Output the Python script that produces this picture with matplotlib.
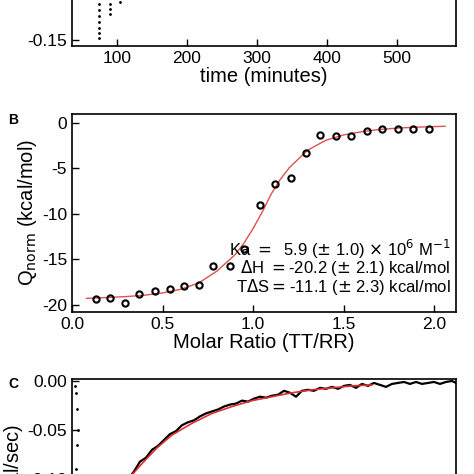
import matplotlib
matplotlib.use("Agg")
import matplotlib.pyplot as plt

plt.rcParams['font.family'] = ['Liberation Sans', 'DejaVu Sans']
plt.rcParams['axes.unicode_minus'] = False

# Panel A: injection spikes (visible lower ends)
a_x = [75]*14 + [90]*11 + [105]*9
a_y = [-0.148,-0.144,-0.14,-0.135,-0.13,-0.125,-0.12,-0.115,-0.11,-0.105,-0.10,-0.095,-0.09,-0.085,
       -0.128,-0.124,-0.12,-0.115,-0.11,-0.105,-0.10,-0.095,-0.09,-0.085,-0.08,
       -0.118,-0.114,-0.11,-0.105,-0.10,-0.095,-0.09,-0.085,-0.08]

# Panel B: integrated heats
b_x = [0.13,0.21,0.29,0.37,0.46,0.54,0.62,0.70,0.78,0.87,0.95,1.04,1.12,1.21,1.29,1.37,1.46,1.54,1.63,1.71,1.80,1.88,1.97]
b_y = [-19.4,-19.3,-19.8,-18.8,-18.5,-18.3,-17.9,-17.8,-15.7,-15.7,-13.9,-9.0,-6.7,-6.0,-3.3,-1.3,-1.4,-1.4,-0.9,-0.6,-0.6,-0.6,-0.6]
fit_x = [0.08,0.2,0.3,0.4,0.5,0.6,0.7,0.8,0.9,0.95,1.0,1.05,1.1,1.15,1.2,1.3,1.4,1.5,1.6,1.7,1.8,1.9,2.06]
fit_y = [-19.3,-19.2,-19.1,-18.95,-18.7,-18.3,-17.6,-16.3,-14.5,-13.2,-11.6,-9.8,-7.8,-6.2,-4.9,-3.0,-1.9,-1.3,-0.95,-0.7,-0.55,-0.45,-0.35]

# Panel C: single-injection trace
c_dot_x = [3,4,5,6,5,4]
c_dot_y = [-0.005,-0.012,-0.028,-0.05,-0.065,-0.09]
c_x = [56,62,68,74,80,86,92,98,104,110,116,122,128,134,140,146,152,158,164,170,176,182,188,194,200,206,212,218,224,230,236,242,248,254,260,266,272,278,284,290,296,302,308,314,320,326,332,338,344,350,356,362,368,374,380,384]
c_y = [-0.100,-0.092,-0.082,-0.078,-0.070,-0.066,-0.060,-0.054,-0.051,-0.045,-0.042,-0.040,-0.036,-0.033,-0.031,-0.029,-0.026,-0.024,-0.023,-0.020,-0.021,-0.018,-0.016,-0.017,-0.015,-0.014,-0.010,-0.012,-0.016,-0.010,-0.009,-0.010,-0.007,-0.008,-0.006,-0.008,-0.005,-0.004,-0.007,-0.003,-0.005,-0.002,-0.004,-0.006,-0.003,-0.002,-0.001,-0.003,-0.001,-0.003,-0.002,-0.001,-0.003,-0.001,-0.000,-0.002]
cfit_x = [56,70,85,100,120,140,160,180,200,220,240,260,280,300]
cfit_y = [-0.100,-0.084,-0.068,-0.055,-0.043,-0.033,-0.026,-0.020,-0.016,-0.012,-0.009,-0.007,-0.005,-0.004]

W = H = 474.0
fig = plt.figure(figsize=(4.74, 4.74), dpi=100)

def ax_px(l, t, r, b):
    return fig.add_axes([l/W, 1-b/H, (r-l)/W, (b-t)/H])

tick_fs = 12.5
lab_fs = 14.5

# A
axA = ax_px(72, -150, 456, 46)
axA.plot(a_x, a_y, 'k.', ms=2)
axA.set_xlim(36, 584)
axA.set_ylim(-0.155, 0.01)
axA.set_yticks([-0.15])
axA.set_yticklabels(['-0.15'])
axA.set_xticks([100, 200, 300, 400, 500])
axA.set_xlabel('time (minutes)', fontsize=lab_fs, labelpad=1)

# B
axB = ax_px(72, 114, 456, 312)
axB.plot(fit_x, fit_y, color='#e05050', lw=1)
axB.plot(b_x, b_y, 'o', mfc='none', mec='k', mew=1.5, ms=4.5)
axB.set_xlim(0.0, 2.12)
axB.set_ylim(-20.8, 1.0)
axB.set_yticks([0, -5, -10, -15, -20])
axB.set_xticks([0.0, 0.5, 1.0, 1.5, 2.0])
axB.set_xticklabels(['0.0', '0.5', '1.0', '1.5', '2.0'])
axB.set_xlabel('Molar Ratio (TT/RR)', fontsize=lab_fs, labelpad=1)
axB.set_ylabel(r'Q$_{\mathrm{norm}}$ (kcal/mol)', fontsize=lab_fs, labelpad=2)
fs = 12
axB.text(2.09, -13.9, r'Ka $=$  5.9 ($\pm$ 1.0) $\times$ 10$^6$ M$^{-1}$', ha='right', va='center', fontsize=fs)
axB.text(2.09, -16.0, r'$\Delta$H $=$-20.2 ($\pm$ 2.1) kcal/mol', ha='right', va='center', fontsize=fs)
axB.text(2.09, -18.1, r'T$\Delta$S$=$-11.1 ($\pm$ 2.3) kcal/mol', ha='right', va='center', fontsize=fs)
fig.text(8/W, 1-120/H, 'B', fontsize=10, fontweight='bold', va='center')

# C
axC = ax_px(72, 379, 456, 620)
axC.plot(c_dot_x, c_dot_y, 'k.', ms=2)
axC.plot(c_x, c_y, 'k-', lw=1.6)
axC.plot(cfit_x, cfit_y, color='#e03030', lw=1.2)
axC.set_xlim(0, 384)
axC.set_ylim(-0.243, 0.002)
axC.set_yticks([0.0, -0.05, -0.10, -0.15, -0.20])
axC.set_yticklabels(['0.00', '-0.05', '-0.10', '-0.15', '-0.20'])
axC.set_xticks([])
axC.set_ylabel(r'Power ($\mu$cal/sec)', fontsize=lab_fs, labelpad=2)
fig.text(8/W, 1-384/H, 'C', fontsize=10, fontweight='bold', va='center')

for ax in (axA, axB, axC):
    ax.tick_params(labelsize=tick_fs, direction='in', length=5, width=1)
    for s in ax.spines.values():
        s.set_linewidth(1.2)

fig.savefig('out.png', dpi=100)
